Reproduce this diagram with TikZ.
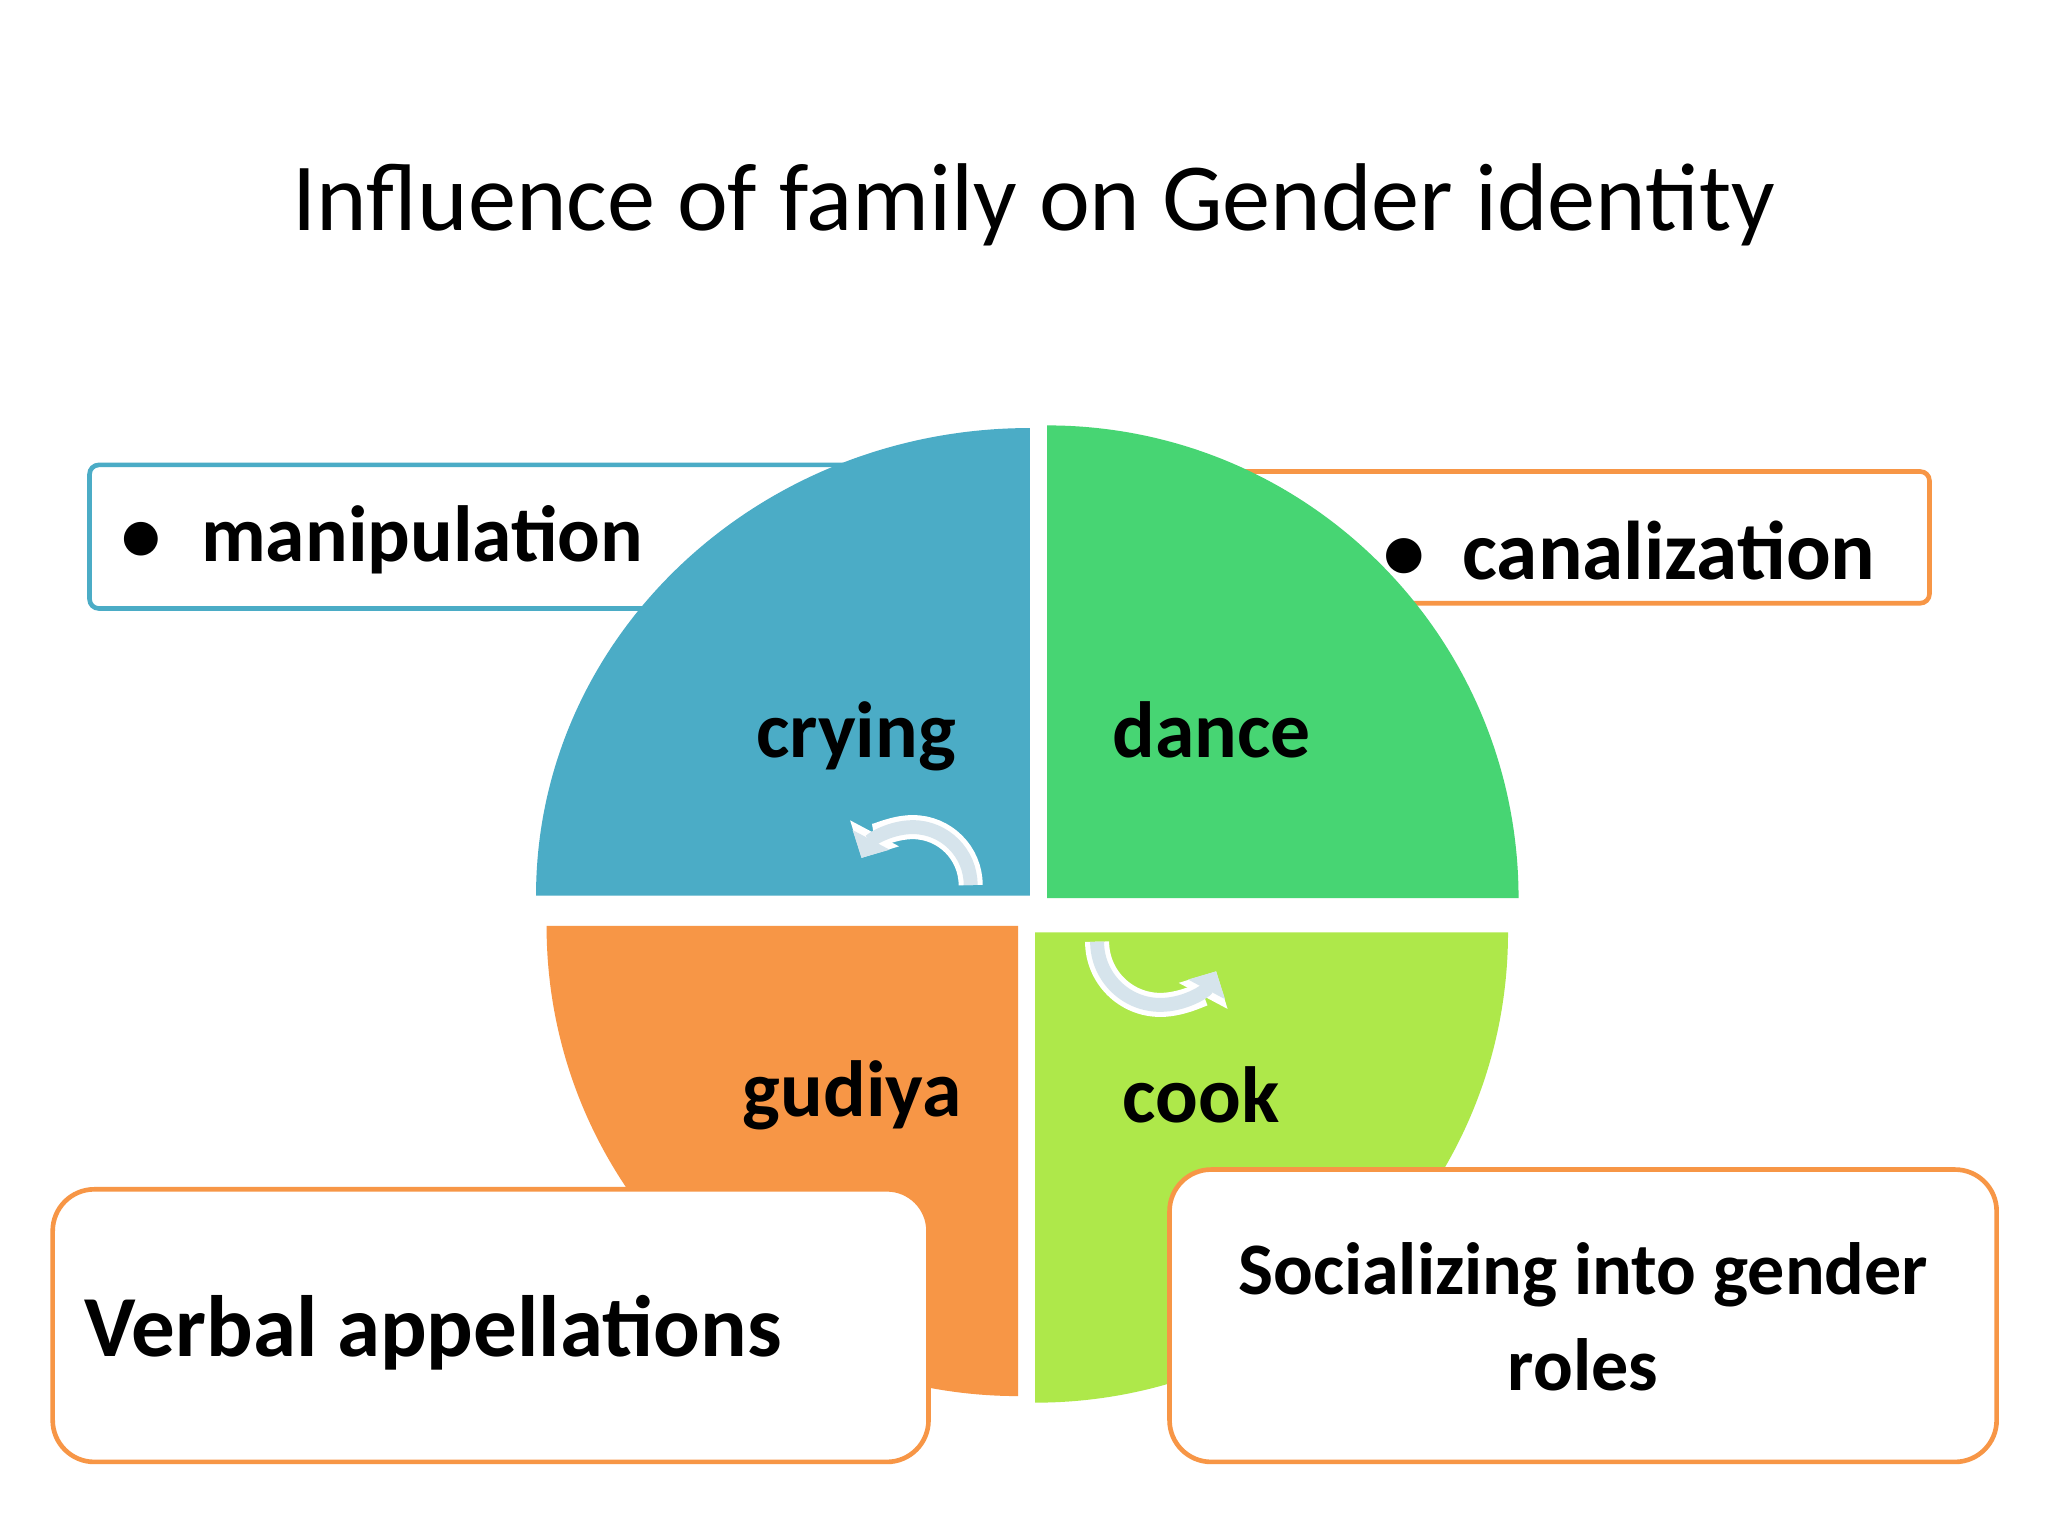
\documentclass[tikz,border=0pt]{standalone}
\usepackage{fontspec}
\setmainfont{Carlito}
\usetikzlibrary{arrows.meta}
\definecolor{qblue}{HTML}{4BACC6}
\definecolor{qgreen}{HTML}{47D573}
\definecolor{qorange}{HTML}{F79646}
\definecolor{qlime}{HTML}{AEE84A}
\definecolor{arrfill}{HTML}{D6E4EC}
\tikzset{
  tbox/.style={draw, fill=white, line width=5pt, rounded corners=10pt},
  bbox/.style={draw=qorange, fill=white, line width=5pt, rounded corners=45pt},
  lbl/.style={font=\fontsize{86}{96}\selectfont\bfseries, anchor=base},
  outer/.style={white, line width=26pt, -{Triangle[width=58pt,length=30pt]}},
  inner/.style={arrfill, line width=15pt, -{Triangle[width=44pt,length=22pt]}}
}
\begin{document}
\begin{tikzpicture}[x=0.05cm,y=-0.05cm]
\useasboundingbox[fill=white] (0,0) rectangle (1555,1166);
\node[font=\fontsize{104}{110}\selectfont, anchor=base] (title) at (785,175) {Influence of family on Gender identity};
% top boxes
\draw[tbox, draw=qblue] (68,353) rectangle (700,462);
\node[font=\fontsize{86}{96}\selectfont\bfseries, anchor=base west] (manip) at (90,426) {•\hspace{0.5em}manipulation};
\draw[tbox, draw=qorange] (900,358) rectangle (1465,458);
\node[font=\fontsize{90}{96}\selectfont\bfseries, anchor=base west] (canal) at (1048,440) {•\hspace{0.45em}canalization};
% quadrants
\fill[qblue] (782,680) -- (407,680) arc[start angle=180,end angle=90,x radius=375,y radius=-355] -- cycle;
\fill[qgreen] (795,682) -- (795,323) arc[start angle=90,end angle=0,x radius=358,y radius=-359] -- cycle;
\fill[qorange] (773,703) -- (773,1060) arc[start angle=270,end angle=180,x radius=358,y radius=-357] -- cycle;
\fill[qlime] (786,708) -- (1145,708) arc[start angle=0,end angle=-90,x radius=359,y radius=-357] -- cycle;
\node[lbl] (crying) at (650,575) {crying};
\node[lbl] (dance) at (920,575) {dance};
\node[lbl] (gudiya) at (647,848) {gudiya};
\node[lbl] (cook) at (912,852) {cook};
% circular arrows
\coordinate (a1) at (737,672);
\coordinate (b1) at (737,718);
\draw[outer] (a1) arc[start angle=180,end angle=28,radius=-44];
\draw[inner] (a1) arc[start angle=180,end angle=28,radius=-44];
\draw[outer] (833,715) arc[start angle=0,end angle=-152,radius=-48];
\draw[inner] (833,715) arc[start angle=0,end angle=-152,radius=-48];
% bottom boxes
\draw[bbox] (40,903) rectangle (705,1110);
\node[font=\fontsize{94}{100}\selectfont\bfseries, anchor=base west] (verbal) at (62,1030) {Verbal appellations};
\draw[bbox] (888,888) rectangle (1516,1110);
\node[font=\fontsize{80}{104}\selectfont\bfseries, align=center] (social) at (1202,1000) {Socializing into gender\\roles};
\end{tikzpicture}
\end{document}
